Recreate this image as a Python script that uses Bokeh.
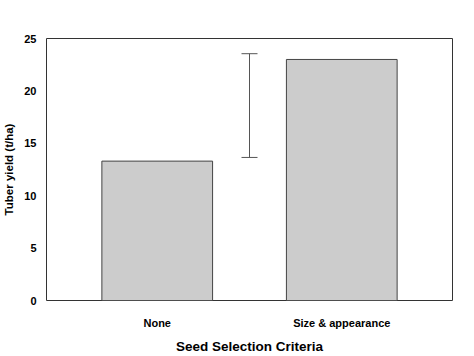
from bokeh.plotting import figure
from bokeh.models import ColumnDataSource, Whisker, TeeHead, FixedTicker, Range1d
from bokeh.embed import file_html
from bokeh.resources import INLINE

categories = ["None", "Size & appearance"]
yields = [13.3, 23.0]
lsd_center = 18.6
lsd_half = 4.95
y_ticks = [0, 5, 10, 15, 20, 25]

xpos = [i + 1 for i in range(len(categories))]

p = figure(width=474, height=356, output_backend="svg", toolbar_location=None,
           x_range=Range1d(0.4, 2.6), y_range=Range1d(0, 25))
p.min_border_left = 46
p.min_border_right = 22
p.min_border_top = 38
p.min_border_bottom = 56
p.background_fill_color = "white"
p.border_fill_color = "white"
p.outline_line_color = "#333333"
p.outline_line_width = 1
p.grid.visible = False

src = ColumnDataSource(dict(x=xpos, top=yields))
p.vbar(x="x", top="top", width=0.6, source=src, fill_color="#cccccc",
       line_color="#444444", line_width=1)

wsrc = ColumnDataSource(dict(base=[1.5], upper=[lsd_center + lsd_half], lower=[lsd_center - lsd_half]))
w = Whisker(source=wsrc, base="base", upper="upper", lower="lower", dimension="height",
            line_color="#555555", line_width=1,
            upper_head=TeeHead(size=16, line_color="#555555", line_width=1),
            lower_head=TeeHead(size=16, line_color="#555555", line_width=1))
p.add_layout(w)

font = "Liberation Sans"
p.xaxis.ticker = FixedTicker(ticks=xpos)
p.xaxis.major_label_overrides = {x: c for x, c in zip(xpos, categories)}
p.yaxis.ticker = FixedTicker(ticks=y_ticks)
for ax in (p.xaxis, p.yaxis):
    ax.axis_line_color = None
    ax.major_tick_line_color = None
    ax.minor_tick_line_color = None
    ax.major_label_text_font = font
    ax.major_label_text_font_style = "bold"
    ax.major_label_text_font_size = "11px"
    ax.major_label_text_color = "black"
    ax.axis_label_text_font = font
    ax.axis_label_text_font_style = "bold"
    ax.axis_label_text_color = "black"

p.xaxis.major_label_standoff = 10
p.xaxis.axis_label = "Seed Selection Criteria"
p.xaxis.axis_label_text_font_size = "13.5px"
p.xaxis.axis_label_standoff = 7
p.yaxis.major_label_standoff = 4
p.yaxis.axis_label = "Tuber yield (t/ha)"
p.yaxis.axis_label_text_font_size = "11.5px"
p.yaxis.axis_label_standoff = 6

open("out.html", "w").write(file_html(p, INLINE))
